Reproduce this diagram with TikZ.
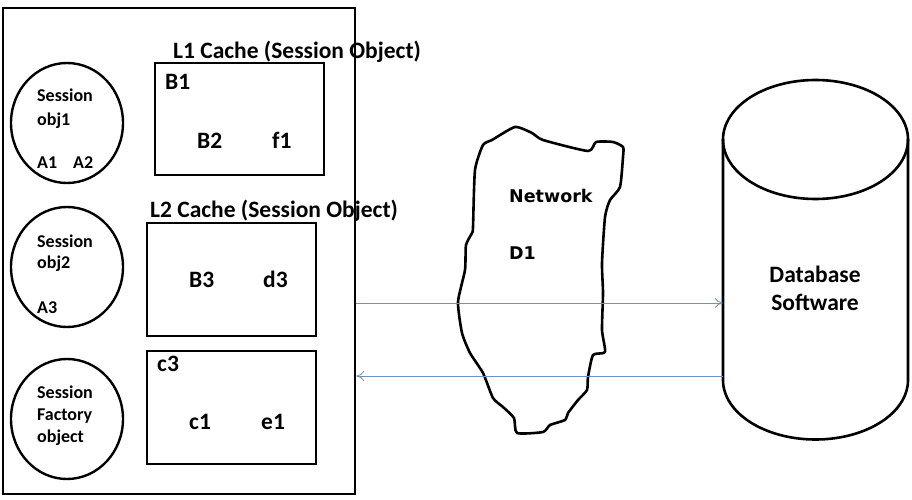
\documentclass[tikz,border=0pt]{standalone}
\usepackage{fontspec}
\setmainfont{Carlito}
\newfontfamily\netfont{DejaVu Sans}
\usetikzlibrary{shapes.geometric,arrows.meta}
\definecolor{arrowblue}{RGB}{110,145,190}
\tikzset{
  frame/.style={draw, line width=2.6pt, rectangle, inner sep=0pt},
  obj/.style={draw, line width=2.4pt, ellipse, inner sep=0pt, minimum width=112pt, minimum height=120pt},
  small/.style={inner sep=0pt, anchor=base west, font=\fontsize{18}{20}\selectfont\bfseries},
  big/.style={inner sep=0pt, anchor=base west, font=\fontsize{23.5}{26}\selectfont\bfseries},
  net/.style={inner sep=0pt, anchor=base west, font=\fontsize{17.5}{20}\netfont\bfseries},
  dbtext/.style={inner sep=0pt, anchor=base, font=\fontsize{23.5}{26}\selectfont\bfseries},
  link/.style={draw=arrowblue, line width=0.8pt, -{To[length=8pt,width=10pt]}},
  outline/.style={draw, line width=2.6pt, line join=round, line cap=round}
}
\begin{document}
\begin{tikzpicture}[x=1pt,y=-1pt]
\useasboundingbox (0,0) rectangle (912,500);
% main container
\node[frame, minimum width=352pt, minimum height=486pt] (main) at (179,251) {};
% session objects
\node[obj] (s1) at (67,123) {};
\node[obj] (s2) at (67,267) {};
\node[obj] (s3) at (67,419) {};
\node[small] (s1a) at (37,102) {Session};
\node[small] (s1b) at (37,125) {obj1};
\node[small] (s1c) at (37,168) {A1};
\node[small] (s1d) at (73,168) {A2};
\node[small] (s2a) at (37,247) {Session};
\node[small] (s2b) at (37,268) {obj2};
\node[small] (s2c) at (37,313) {A3};
\node[small] (s3a) at (37,398) {Session};
\node[small] (s3b) at (37,420) {Factory};
\node[small] (s3c) at (37,442) {object};
% caches
\node[frame, minimum width=169pt, minimum height=112pt] (l1) at (239.5,119) {};
\node[frame, minimum width=169pt, minimum height=113pt] (l2) at (231.5,279.5) {};
\node[frame, minimum width=169pt, minimum height=113pt] (l3) at (231.5,407.5) {};
\node[big] (l1t) at (173,59) {L1 Cache (Session Object)};
\node[big] (l2t) at (150,217) {L2 Cache (Session Object)};
\node[big] (b1) at (165,90) {B1};
\node[big] (b2) at (197,148) {B2};
\node[big] (f1) at (272,148) {f1};
\node[big] (b3) at (189,287) {B3};
\node[big] (d3) at (263,287) {d3};
\node[big] (c3) at (157,371) {c3};
\node[big] (c1) at (189,429) {c1};
\node[big] (e1) at (261,429) {e1};
% network cloud
\draw[outline] plot[smooth cycle, tension=0.35] coordinates {
 (515,127) (532,133) (543,140) (588,151) (596,142) (613,142) (623,147) (623,157)
 (620,187) (610,200) (605,217) (602,263) (603,293) (602,330) (605,352) (593,355)
 (588,377) (587,390) (578,400) (568,413) (565,420) (550,425) (543,432) (517,433)
 (514,418) (503,407) (493,398) (483,373) (470,353) (462,333) (458,302) (465,270)
 (466,245) (472,233) (473,227) (475,170) (483,145) (492,140)};
\node[net] (nt) at (509,202) {Network};
\node[net] (d1) at (509,259) {D1};
% database cylinder
\node[minimum width=185pt, minimum height=360pt, inner sep=0pt] (db) at (815.5,260) {};
\draw[outline] (815.5,139.5) ellipse [x radius=92.5, y radius=59.5];
\draw[outline] (723,139.5) -- (723,380) arc[start angle=180, end angle=0, x radius=92.5, y radius=59.5] -- (908,139.5);
\node[dbtext] (dbt1) at (815,282) {Database};
\node[dbtext] (dbt2) at (815,310) {Software};
% connectors
\draw[link] (main.east |- 0,303) -- (db.west |- 0,303);
\draw[link] (db.west |- 0,376) -- (main.east |- 0,376);
\end{tikzpicture}
\end{document}
